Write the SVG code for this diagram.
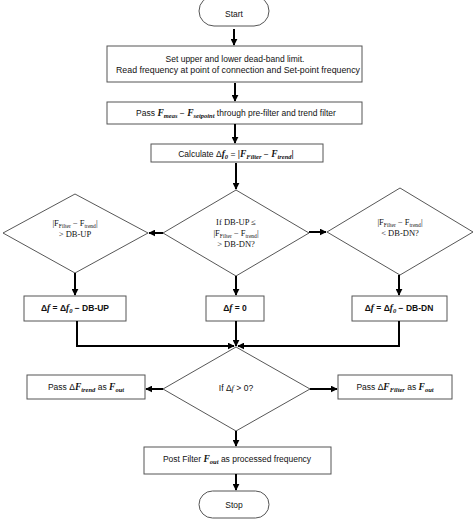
<svg xmlns="http://www.w3.org/2000/svg" width="474" height="519" viewBox="0 0 474 519">
<style>
.bx{fill:#fff;stroke:#555;stroke-width:1}
.dm{fill:#fff;stroke:#444;stroke-width:0.9}
.t{font-family:"Liberation Sans",Arial,sans-serif;font-size:8.5px;fill:#111;text-anchor:middle}
.tb{font-family:"Liberation Sans",Arial,sans-serif;font-size:8.5px;font-weight:bold;fill:#111;text-anchor:middle}
.ds{font-family:"Liberation Serif","Times New Roman",serif;font-size:8.5px;fill:#111;text-anchor:middle}
.m{font-family:"Liberation Serif","Times New Roman",serif;font-style:italic;font-weight:bold;font-size:9.5px}
.s{font-family:"Liberation Serif","Times New Roman",serif;font-style:italic;font-weight:bold;font-size:6.5px}
.ss{font-size:5.5px}
.c{fill:none;stroke:#000;stroke-width:2}
</style>
<defs>
<marker id="ah" viewBox="0 0 10 10" refX="9" refY="5" markerWidth="3.5" markerHeight="3.5" orient="auto" markerUnits="strokeWidth">
<path d="M0,0 L10,5 L0,10 z" fill="#000"/>
</marker>
</defs>

<g id="start">
<rect class="bx" x="199" y="-4" width="70" height="30" rx="15" ry="15"/>
<text class="t" x="234" y="17">Start</text>
</g>

<g id="init">
<rect class="bx" x="107" y="46" width="255" height="36"/>
<text class="t" x="235" y="62">Set upper and lower dead-band limit.</text>
<text class="t" x="238" y="73" textLength="244" lengthAdjust="spacingAndGlyphs">Read frequency at point of connection and Set-point frequency</text>
</g>

<g id="prefilter">
<rect class="bx" x="107" y="102" width="255" height="22"/>
<text class="t" x="236" y="116">Pass <tspan class="m">F</tspan><tspan class="s" dy="2">meas</tspan><tspan dy="-2"> − </tspan><tspan class="m">F</tspan><tspan class="s" dy="2">setpoint</tspan><tspan dy="-2"> through pre-filter and trend filter</tspan></text>
</g>

<g id="calc">
<rect class="bx" x="151" y="144" width="172" height="18"/>
<text class="t" x="236" y="157">Calculate Δ<tspan class="m">f</tspan><tspan class="s" dy="2">0</tspan><tspan dy="-2"> = |</tspan><tspan class="m">F</tspan><tspan class="s" dy="2">Filter</tspan><tspan dy="-2"> − </tspan><tspan class="m">F</tspan><tspan class="s" dy="2">trend</tspan><tspan dy="-2">|</tspan></text>
</g>

<g id="d-center">
<polygon class="dm" points="236,190 309,233 236,276 163,233"/>
<text class="ds" x="236" y="225">If DB-UP ≤</text>
<text class="ds" x="236" y="236">|F<tspan class="ss" dy="1.5">Filter</tspan><tspan dy="-1.5"> − F</tspan><tspan class="ss" dy="1.5">trend</tspan><tspan dy="-1.5">|</tspan></text>
<text class="ds" x="236" y="247">&gt; DB-DN?</text>
</g>

<g id="d-left">
<polygon class="dm" points="75,194 148,233 75,273 3,233"/>
<text class="ds" x="75" y="226">|F<tspan class="ss" dy="1.5">Filter</tspan><tspan dy="-1.5"> − F</tspan><tspan class="ss" dy="1.5">trend</tspan><tspan dy="-1.5">|</tspan></text>
<text class="ds" x="75" y="237">&gt; DB-UP</text>
</g>

<g id="d-right">
<polygon class="dm" points="400,188 473,232 400,275 327,232"/>
<text class="ds" x="400" y="225">|F<tspan class="ss" dy="1.5">Filter</tspan><tspan dy="-1.5"> − F</tspan><tspan class="ss" dy="1.5">trend</tspan><tspan dy="-1.5">|</tspan></text>
<text class="ds" x="400" y="236">&lt; DB-DN?</text>
</g>

<g id="b-left">
<rect class="bx" x="24" y="296" width="102" height="25"/>
<text class="tb" x="75" y="311">Δ<tspan class="m">f</tspan> = Δ<tspan class="m">f</tspan><tspan class="s" dy="2">0</tspan><tspan dy="-2"> − DB-UP</tspan></text>
</g>

<g id="b-center">
<rect class="bx" x="206" y="296" width="58" height="25"/>
<text class="tb" x="235" y="311">Δ<tspan class="m">f</tspan> = 0</text>
</g>

<g id="b-right">
<rect class="bx" x="352" y="296" width="95" height="25"/>
<text class="tb" x="399" y="311">Δ<tspan class="m">f</tspan> = Δ<tspan class="m">f</tspan><tspan class="s" dy="2">0</tspan><tspan dy="-2"> − DB-DN</tspan></text>
</g>

<g id="d-bottom">
<polygon class="dm" points="236,347 310,389 236,431 163,389"/>
<text class="t" x="236" y="391">If Δ<tspan style="font-style:italic;font-family:'Liberation Serif',serif">f</tspan> &gt; 0?</text>
</g>

<g id="pass-trend">
<rect class="bx" x="27" y="375" width="118" height="24"/>
<text class="t" x="86" y="390">Pass Δ<tspan class="m">F</tspan><tspan class="s" dy="2">trend</tspan><tspan dy="-2"> as </tspan><tspan class="m">F</tspan><tspan class="s" dy="2">out</tspan></text>
</g>

<g id="pass-filter">
<rect class="bx" x="338" y="375" width="114" height="24"/>
<text class="t" x="395" y="390">Pass Δ<tspan class="m">F</tspan><tspan class="s" dy="2">Filter</tspan><tspan dy="-2"> as </tspan><tspan class="m">F</tspan><tspan class="s" dy="2">out</tspan></text>
</g>

<g id="post">
<rect class="bx" x="144" y="447" width="187" height="27"/>
<text class="t" x="237" y="462">Post Filter <tspan class="m">F</tspan><tspan class="s" dy="2">out</tspan><tspan dy="-2"> as processed frequency</tspan></text>
</g>

<g id="stop">
<rect class="bx" x="199" y="491" width="70" height="27" rx="13.5" ry="13.5"/>
<text class="t" x="234" y="508">Stop</text>
</g>

<g id="connectors">
<line class="c" x1="234" y1="29" x2="234" y2="45" marker-end="url(#ah)"/>
<line class="c" x1="235" y1="83" x2="235" y2="101" marker-end="url(#ah)"/>
<line class="c" x1="235" y1="124" x2="235" y2="143" marker-end="url(#ah)"/>
<line class="c" x1="236" y1="163" x2="236" y2="189" marker-end="url(#ah)"/>
<line class="c" x1="163" y1="233" x2="149" y2="233" marker-end="url(#ah)"/>
<line class="c" x1="309" y1="232" x2="326" y2="232" marker-end="url(#ah)"/>
<line class="c" x1="75" y1="273" x2="75" y2="295" marker-end="url(#ah)"/>
<line class="c" x1="236" y1="276" x2="236" y2="295" marker-end="url(#ah)"/>
<line class="c" x1="399" y1="275" x2="399" y2="295" marker-end="url(#ah)"/>
<polyline class="c" points="77,321 77,346 234,346" marker-end="url(#ah)"/>
<line class="c" x1="236" y1="321" x2="236" y2="346" marker-end="url(#ah)"/>
<polyline class="c" points="399,321 399,346 238,346" marker-end="url(#ah)"/>
<line class="c" x1="163" y1="389" x2="146" y2="389" marker-end="url(#ah)"/>
<line class="c" x1="310" y1="389" x2="337" y2="389" marker-end="url(#ah)"/>
<line class="c" x1="236" y1="431" x2="236" y2="446" marker-end="url(#ah)"/>
<line class="c" x1="236" y1="474" x2="236" y2="490" marker-end="url(#ah)"/>
</g>
</svg>
